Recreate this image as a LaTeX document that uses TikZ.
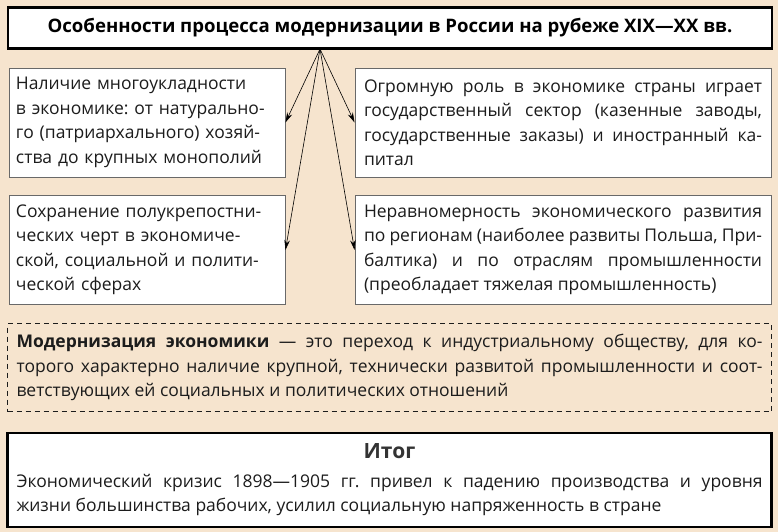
\documentclass[tikz,border=0pt]{standalone}
\usepackage{fontspec}
\setmainfont{Open Sans}
\usetikzlibrary{arrows.meta}
\definecolor{beige}{RGB}{246,228,206}
\definecolor{boxline}{RGB}{105,105,105}
\definecolor{ink}{RGB}{28,28,28}
\frenchspacing

\begin{document}
\begin{tikzpicture}[x=1pt,y=-1pt,
    leftbox/.style={draw=boxline,fill=white,line width=0.9pt,inner sep=0pt,
      minimum width=276pt,minimum height=109pt,text width=262pt,align=left,
      text=ink,font=\fontsize{17.5}{24.5}\selectfont},
    rightbox/.style={leftbox,minimum width=416pt,text width=398pt,align=justify},
    thickbox/.style={draw=black,fill=white,line width=2.4pt,inner sep=0pt,
      minimum width=764pt},
    arr/.style={-{Stealth[length=10pt,width=5.5pt]},line width=0.6pt,black}]
  \fill[beige] (0,0) rectangle (778,532);
  \useasboundingbox (0,0) rectangle (778,532);
  % header
  \node[thickbox,minimum height=41pt,font=\fontsize{18.6}{20}\selectfont\bfseries]
    (title) at (390,28) {Особенности процесса модернизации в России на рубеже XIX—XX вв.};
  % four features
  \node[leftbox] (mnogo) at (147,122.5) {Наличие многоукладности\\
    в экономике: от натурально-\\го (патриархального) хозяй-\\ства до крупных монополий};
  \node[rightbox] (gos) at (563,122.5) {Огромную роль в экономике страны играет\linebreak
    государственный сектор (казенные заводы,\linebreak
    государственные заказы) и иностранный ка-\linebreak питал};
  \node[leftbox] (krep) at (147,250) {Сохранение полукрепостни-\\ческих черт в экономиче-\\ской, социальной и полити-\\ческой сферах};
  \node[rightbox] (nerav) at (563,250) {Неравномерность экономического развития\linebreak
    по регионам (наиболее развиты Польша, При-\linebreak
    балтика) и по отраслям промышленности\linebreak
    (преобладает тяжелая промышленность)};
  \coordinate (hub) at (320,49);
  \draw[arr] (hub) -- (mnogo.east);
  \draw[arr] (hub) -- (gos.west);
  \draw[arr] (hub) -- (krep.east);
  \draw[arr] (hub) -- (nerav.west);
  % definition
  \node[draw=ink,line width=1pt,dash pattern=on 5pt off 4pt,inner sep=0pt,
    minimum width=764pt,minimum height=88pt,text width=746pt,align=justify,
    text=ink,font=\fontsize{17.5}{24.5}\selectfont] (defn) at (389.5,367.5)
    {\textbf{Модернизация экономики} — это переход к индустриальному обществу, для ко-\linebreak
    торого характерно наличие крупной, технически развитой промышленности и соот-\linebreak
    ветствующих ей социальных и политических отношений};
  % result
  \node[thickbox,minimum height=94pt,text width=746pt,align=justify,text=ink,
    font=\fontsize{17.5}{24.5}\selectfont] (itog) at (389.5,480)
    {\makebox[\linewidth][c]{\fontsize{21}{24}\selectfont\bfseries\color{black!80}Итог}\par
    \vspace{4pt}
    Экономический кризис 1898—1905 гг. привел к падению производства и уровня\linebreak
    жизни большинства рабочих, усилил социальную напряженность в стране};
\end{tikzpicture}
\end{document}
